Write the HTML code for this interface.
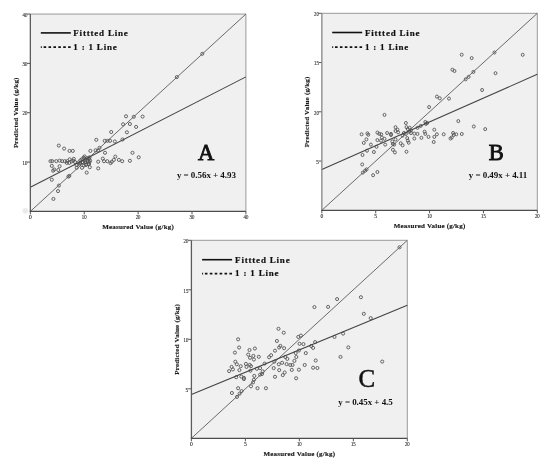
<!DOCTYPE html>
<html><head><meta charset="utf-8"><style>
html,body{margin:0;padding:0;background:#fff;width:550px;height:464px;overflow:hidden}
svg{display:block}
.tk{font-family:"Liberation Serif",serif;font-size:6.3px;fill:#222;stroke:#222;stroke-width:0.12px}
.lg{font-family:"Liberation Serif",serif;font-weight:bold;font-size:9px;letter-spacing:0.8px;fill:#111;stroke:#111;stroke-width:0.2px}
.big{font-family:"Liberation Serif",serif;font-weight:normal;font-size:22.5px;fill:#111;stroke:#111;stroke-width:0.9px}
.bigc{font-size:25px;stroke-width:0.5px}
.eq{font-family:"Liberation Serif",serif;font-weight:bold;font-size:9px;letter-spacing:-0.05px;fill:#111}
.al{font-family:"Liberation Serif",serif;font-weight:bold;font-size:7px;letter-spacing:0.2px;fill:#1a1a1a;stroke:#1a1a1a;stroke-width:0.15px}
.pt{fill:none;stroke:#555;stroke-width:0.9}
</style></head><body>
<svg width="550" height="464" viewBox="0 0 550 464">
<rect width="550" height="464" fill="#fff"/>
<defs><radialGradient id="bl"><stop offset="0" stop-color="#e9e9e9"/><stop offset="0.6" stop-color="#ececec"/><stop offset="1" stop-color="#fff" stop-opacity="0"/></radialGradient></defs><circle cx="25.4" cy="210.8" r="4" fill="url(#bl)"/>
<rect x="30.35" y="14.05" width="215.55" height="197.35" fill="#f0f0f0"/>
<path d="M30.35 14.05H245.9V211.4" stroke="#999" stroke-width="1" fill="none"/>
<line x1="30.35" y1="211.4" x2="30.35" y2="214.4" stroke="#555" stroke-width="1"/>
<text x="30.35" y="219.4" class="tk" text-anchor="middle" textLength="2.8" lengthAdjust="spacingAndGlyphs">0</text>
<line x1="84.24" y1="211.4" x2="84.24" y2="214.4" stroke="#555" stroke-width="1"/>
<line x1="27.15" y1="162.06" x2="30.35" y2="162.06" stroke="#555" stroke-width="1"/>
<text x="84.24" y="219.4" class="tk" text-anchor="middle" textLength="4.8" lengthAdjust="spacingAndGlyphs">10</text>
<text x="27.35" y="164.76" class="tk" text-anchor="end" textLength="4.8" lengthAdjust="spacingAndGlyphs">10</text>
<line x1="138.12" y1="211.4" x2="138.12" y2="214.4" stroke="#555" stroke-width="1"/>
<line x1="27.15" y1="112.73" x2="30.35" y2="112.73" stroke="#555" stroke-width="1"/>
<text x="138.12" y="219.4" class="tk" text-anchor="middle" textLength="4.8" lengthAdjust="spacingAndGlyphs">20</text>
<text x="27.35" y="115.43" class="tk" text-anchor="end" textLength="4.8" lengthAdjust="spacingAndGlyphs">20</text>
<line x1="192.01" y1="211.4" x2="192.01" y2="214.4" stroke="#555" stroke-width="1"/>
<line x1="27.15" y1="63.39" x2="30.35" y2="63.39" stroke="#555" stroke-width="1"/>
<text x="192.01" y="219.4" class="tk" text-anchor="middle" textLength="4.8" lengthAdjust="spacingAndGlyphs">30</text>
<text x="27.35" y="66.09" class="tk" text-anchor="end" textLength="4.8" lengthAdjust="spacingAndGlyphs">30</text>
<line x1="245.9" y1="211.4" x2="245.9" y2="214.4" stroke="#555" stroke-width="1"/>
<line x1="27.15" y1="14.05" x2="30.35" y2="14.05" stroke="#555" stroke-width="1"/>
<text x="245.9" y="219.4" class="tk" text-anchor="middle" textLength="4.8" lengthAdjust="spacingAndGlyphs">40</text>
<text x="27.35" y="16.75" class="tk" text-anchor="end" textLength="4.8" lengthAdjust="spacingAndGlyphs">40</text>
<ellipse cx="58.8" cy="145.6" rx="1.55" ry="1.55" class="pt"/>
<ellipse cx="64.1" cy="148.6" rx="1.55" ry="1.55" class="pt"/>
<ellipse cx="69.5" cy="150.9" rx="1.55" ry="1.55" class="pt"/>
<ellipse cx="72.8" cy="150.9" rx="1.55" ry="1.55" class="pt"/>
<ellipse cx="90.4" cy="150.9" rx="1.55" ry="1.55" class="pt"/>
<ellipse cx="95.6" cy="150.3" rx="1.55" ry="1.55" class="pt"/>
<ellipse cx="98" cy="150.6" rx="1.55" ry="1.55" class="pt"/>
<ellipse cx="126" cy="116.3" rx="1.55" ry="1.55" class="pt"/>
<ellipse cx="133.8" cy="116.8" rx="1.55" ry="1.55" class="pt"/>
<ellipse cx="142.6" cy="116.6" rx="1.55" ry="1.55" class="pt"/>
<ellipse cx="123.1" cy="124.3" rx="1.55" ry="1.55" class="pt"/>
<ellipse cx="129.9" cy="124" rx="1.55" ry="1.55" class="pt"/>
<ellipse cx="136.1" cy="126.9" rx="1.55" ry="1.55" class="pt"/>
<ellipse cx="111.2" cy="132" rx="1.55" ry="1.55" class="pt"/>
<ellipse cx="126.9" cy="132.3" rx="1.55" ry="1.55" class="pt"/>
<ellipse cx="96.3" cy="139.8" rx="1.55" ry="1.55" class="pt"/>
<ellipse cx="104.7" cy="140.8" rx="1.55" ry="1.55" class="pt"/>
<ellipse cx="107.5" cy="140.8" rx="1.55" ry="1.55" class="pt"/>
<ellipse cx="110.1" cy="140.8" rx="1.55" ry="1.55" class="pt"/>
<ellipse cx="114.8" cy="141.5" rx="1.55" ry="1.55" class="pt"/>
<ellipse cx="122.5" cy="139.5" rx="1.55" ry="1.55" class="pt"/>
<ellipse cx="99.5" cy="147.8" rx="1.55" ry="1.55" class="pt"/>
<ellipse cx="176.8" cy="77.1" rx="1.55" ry="1.55" class="pt"/>
<ellipse cx="202.3" cy="53.8" rx="1.55" ry="1.55" class="pt"/>
<ellipse cx="50.5" cy="161.15" rx="1.55" ry="1.55" class="pt"/>
<ellipse cx="52.3" cy="161.15" rx="1.55" ry="1.55" class="pt"/>
<ellipse cx="56.3" cy="161.15" rx="1.55" ry="1.55" class="pt"/>
<ellipse cx="59.6" cy="160.65" rx="1.55" ry="1.55" class="pt"/>
<ellipse cx="62.2" cy="161.15" rx="1.55" ry="1.55" class="pt"/>
<ellipse cx="64.7" cy="161.15" rx="1.55" ry="1.55" class="pt"/>
<ellipse cx="67.3" cy="161.15" rx="1.55" ry="1.55" class="pt"/>
<ellipse cx="69.7" cy="159.3" rx="1.55" ry="1.55" class="pt"/>
<ellipse cx="73.1" cy="160.65" rx="1.55" ry="1.55" class="pt"/>
<ellipse cx="51.8" cy="165.9" rx="1.55" ry="1.55" class="pt"/>
<ellipse cx="59.6" cy="166.2" rx="1.55" ry="1.55" class="pt"/>
<ellipse cx="53.1" cy="170.7" rx="1.55" ry="1.55" class="pt"/>
<ellipse cx="54.2" cy="169.5" rx="1.55" ry="1.55" class="pt"/>
<ellipse cx="58.3" cy="170" rx="1.55" ry="1.55" class="pt"/>
<ellipse cx="69.3" cy="162.9" rx="1.55" ry="1.55" class="pt"/>
<ellipse cx="66.8" cy="162.9" rx="1.55" ry="1.55" class="pt"/>
<ellipse cx="86.7" cy="172.6" rx="1.55" ry="1.55" class="pt"/>
<ellipse cx="51.8" cy="179.7" rx="1.55" ry="1.55" class="pt"/>
<ellipse cx="69.3" cy="175.9" rx="1.55" ry="1.55" class="pt"/>
<ellipse cx="68.4" cy="176.6" rx="1.55" ry="1.55" class="pt"/>
<ellipse cx="58.9" cy="185.6" rx="1.55" ry="1.55" class="pt"/>
<ellipse cx="58" cy="191.1" rx="1.55" ry="1.55" class="pt"/>
<ellipse cx="53.4" cy="198.9" rx="1.55" ry="1.55" class="pt"/>
<ellipse cx="84.6" cy="156.4" rx="1.55" ry="1.55" class="pt"/>
<ellipse cx="83.6" cy="157.6" rx="1.55" ry="1.55" class="pt"/>
<ellipse cx="73.8" cy="158.8" rx="1.55" ry="1.55" class="pt"/>
<ellipse cx="71.5" cy="161.4" rx="1.55" ry="1.55" class="pt"/>
<ellipse cx="75" cy="162" rx="1.55" ry="1.55" class="pt"/>
<ellipse cx="80.5" cy="160.2" rx="1.55" ry="1.55" class="pt"/>
<ellipse cx="81.8" cy="159.3" rx="1.55" ry="1.55" class="pt"/>
<ellipse cx="87.2" cy="158.2" rx="1.55" ry="1.55" class="pt"/>
<ellipse cx="89.5" cy="157.3" rx="1.55" ry="1.55" class="pt"/>
<ellipse cx="90.1" cy="160.5" rx="1.55" ry="1.55" class="pt"/>
<ellipse cx="87.8" cy="160.8" rx="1.55" ry="1.55" class="pt"/>
<ellipse cx="85.5" cy="162" rx="1.55" ry="1.55" class="pt"/>
<ellipse cx="82.5" cy="162" rx="1.55" ry="1.55" class="pt"/>
<ellipse cx="78.5" cy="162.5" rx="1.55" ry="1.55" class="pt"/>
<ellipse cx="76.4" cy="164.9" rx="1.55" ry="1.55" class="pt"/>
<ellipse cx="76.7" cy="167.8" rx="1.55" ry="1.55" class="pt"/>
<ellipse cx="82" cy="167.8" rx="1.55" ry="1.55" class="pt"/>
<ellipse cx="86" cy="164.9" rx="1.55" ry="1.55" class="pt"/>
<ellipse cx="89" cy="164" rx="1.55" ry="1.55" class="pt"/>
<ellipse cx="89.8" cy="167.2" rx="1.55" ry="1.55" class="pt"/>
<ellipse cx="98.2" cy="161.7" rx="1.55" ry="1.55" class="pt"/>
<ellipse cx="98.2" cy="168.4" rx="1.55" ry="1.55" class="pt"/>
<ellipse cx="79.5" cy="164.5" rx="1.55" ry="1.55" class="pt"/>
<ellipse cx="84" cy="165.5" rx="1.55" ry="1.55" class="pt"/>
<ellipse cx="89.5" cy="162" rx="1.55" ry="1.55" class="pt"/>
<ellipse cx="89" cy="158.5" rx="1.55" ry="1.55" class="pt"/>
<ellipse cx="105" cy="152.8" rx="1.55" ry="1.55" class="pt"/>
<ellipse cx="132.5" cy="152.8" rx="1.55" ry="1.55" class="pt"/>
<ellipse cx="138.7" cy="157.3" rx="1.55" ry="1.55" class="pt"/>
<ellipse cx="102.8" cy="158.6" rx="1.55" ry="1.55" class="pt"/>
<ellipse cx="104" cy="161.2" rx="1.55" ry="1.55" class="pt"/>
<ellipse cx="107.3" cy="161.2" rx="1.55" ry="1.55" class="pt"/>
<ellipse cx="110.5" cy="163.1" rx="1.55" ry="1.55" class="pt"/>
<ellipse cx="111.8" cy="161.8" rx="1.55" ry="1.55" class="pt"/>
<ellipse cx="113.8" cy="159.9" rx="1.55" ry="1.55" class="pt"/>
<ellipse cx="115.3" cy="156.6" rx="1.55" ry="1.55" class="pt"/>
<ellipse cx="118.9" cy="159.9" rx="1.55" ry="1.55" class="pt"/>
<ellipse cx="122.2" cy="161.2" rx="1.55" ry="1.55" class="pt"/>
<ellipse cx="129.9" cy="160.8" rx="1.55" ry="1.55" class="pt"/>
<ellipse cx="85.4" cy="160.1" rx="1.55" ry="1.55" class="pt"/>
<ellipse cx="87.6" cy="161.6" rx="1.55" ry="1.55" class="pt"/>
<ellipse cx="83.1" cy="162.4" rx="1.55" ry="1.55" class="pt"/>
<ellipse cx="88.4" cy="163.9" rx="1.55" ry="1.55" class="pt"/>
<ellipse cx="86.1" cy="164.6" rx="1.55" ry="1.55" class="pt"/>
<ellipse cx="80.1" cy="163.1" rx="1.55" ry="1.55" class="pt"/>
<ellipse cx="84.2" cy="158.3" rx="1.55" ry="1.55" class="pt"/>
<line x1="30.35" y1="211.4" x2="245.9" y2="14.05" stroke="#5a5a5a" stroke-width="0.9"/>
<line x1="30.35" y1="187.2" x2="245.9" y2="76.9" stroke="#444" stroke-width="1.05"/>
<path d="M30.35 14.05V211.4" stroke="#5c5c5c" stroke-width="1.3" fill="none"/>
<path d="M29.7 211.4H245.9" stroke="#4c4c4c" stroke-width="1.3" fill="none"/>
<line x1="40.8" y1="32.9" x2="70.8" y2="32.9" stroke="#111" stroke-width="1.6"/>
<line x1="40.8" y1="47.1" x2="70.8" y2="47.1" stroke="#111" stroke-width="1.6" stroke-dasharray="1 1.8 2.6 2.3 2.6 2.3 2.6 2.3 2.6 2.3 2.6 2.3 2.6 5"/>
<text x="73.3" y="36.2" class="lg">Fittted Line</text>
<text x="73.3" y="49.6" class="lg">1 : 1 Line</text>
<text x="206" y="159.7" class="big" text-anchor="middle">A</text>
<text x="206.4" y="177.9" class="eq" text-anchor="middle">y = 0.56x + 4.93</text>
<text x="138.12" y="228.6" class="al" text-anchor="middle">Measured Value (g/kg)</text>
<text transform="translate(17.55 112.73) rotate(-90)" class="al" text-anchor="middle">Predicted Value (g/kg)</text>
<rect x="321.85" y="13.3" width="215.45" height="197" fill="#f0f0f0"/>
<path d="M321.85 13.3H537.3V210.3" stroke="#999" stroke-width="1" fill="none"/>
<line x1="321.85" y1="210.3" x2="321.85" y2="213.3" stroke="#555" stroke-width="1"/>
<text x="321.85" y="218.3" class="tk" text-anchor="middle" textLength="2.8" lengthAdjust="spacingAndGlyphs">0</text>
<line x1="375.71" y1="210.3" x2="375.71" y2="213.3" stroke="#555" stroke-width="1"/>
<line x1="318.65" y1="161.05" x2="321.85" y2="161.05" stroke="#555" stroke-width="1"/>
<text x="375.71" y="218.3" class="tk" text-anchor="middle" textLength="2.8" lengthAdjust="spacingAndGlyphs">5</text>
<text x="318.85" y="163.75" class="tk" text-anchor="end" textLength="2.8" lengthAdjust="spacingAndGlyphs">5</text>
<line x1="429.57" y1="210.3" x2="429.57" y2="213.3" stroke="#555" stroke-width="1"/>
<line x1="318.65" y1="111.8" x2="321.85" y2="111.8" stroke="#555" stroke-width="1"/>
<text x="429.57" y="218.3" class="tk" text-anchor="middle" textLength="4.8" lengthAdjust="spacingAndGlyphs">10</text>
<text x="318.85" y="114.5" class="tk" text-anchor="end" textLength="4.8" lengthAdjust="spacingAndGlyphs">20</text>
<line x1="483.44" y1="210.3" x2="483.44" y2="213.3" stroke="#555" stroke-width="1"/>
<line x1="318.65" y1="62.55" x2="321.85" y2="62.55" stroke="#555" stroke-width="1"/>
<text x="483.44" y="218.3" class="tk" text-anchor="middle" textLength="4.8" lengthAdjust="spacingAndGlyphs">15</text>
<text x="318.85" y="65.25" class="tk" text-anchor="end" textLength="4.8" lengthAdjust="spacingAndGlyphs">15</text>
<line x1="537.3" y1="210.3" x2="537.3" y2="213.3" stroke="#555" stroke-width="1"/>
<line x1="318.65" y1="13.3" x2="321.85" y2="13.3" stroke="#555" stroke-width="1"/>
<text x="537.3" y="218.3" class="tk" text-anchor="middle" textLength="4.8" lengthAdjust="spacingAndGlyphs">20</text>
<text x="318.85" y="16" class="tk" text-anchor="end" textLength="4.8" lengthAdjust="spacingAndGlyphs">20</text>
<ellipse cx="384.5" cy="114.9" rx="1.45" ry="1.55" class="pt"/>
<ellipse cx="361.6" cy="134.3" rx="1.45" ry="1.55" class="pt"/>
<ellipse cx="367.4" cy="133.4" rx="1.45" ry="1.55" class="pt"/>
<ellipse cx="368.3" cy="134.7" rx="1.45" ry="1.55" class="pt"/>
<ellipse cx="377.4" cy="132.6" rx="1.45" ry="1.55" class="pt"/>
<ellipse cx="379.3" cy="133.9" rx="1.45" ry="1.55" class="pt"/>
<ellipse cx="381.3" cy="134.3" rx="1.45" ry="1.55" class="pt"/>
<ellipse cx="366.4" cy="139.4" rx="1.45" ry="1.55" class="pt"/>
<ellipse cx="363.8" cy="142.9" rx="1.45" ry="1.55" class="pt"/>
<ellipse cx="370.9" cy="144.6" rx="1.45" ry="1.55" class="pt"/>
<ellipse cx="377.4" cy="140.1" rx="1.45" ry="1.55" class="pt"/>
<ellipse cx="381.9" cy="137.5" rx="1.45" ry="1.55" class="pt"/>
<ellipse cx="376.5" cy="146.8" rx="1.45" ry="1.55" class="pt"/>
<ellipse cx="367" cy="150.7" rx="1.45" ry="1.55" class="pt"/>
<ellipse cx="373.9" cy="152" rx="1.45" ry="1.55" class="pt"/>
<ellipse cx="362.5" cy="155" rx="1.45" ry="1.55" class="pt"/>
<ellipse cx="429.1" cy="107.1" rx="1.45" ry="1.55" class="pt"/>
<ellipse cx="405.9" cy="123" rx="1.45" ry="1.55" class="pt"/>
<ellipse cx="395.5" cy="127.2" rx="1.45" ry="1.55" class="pt"/>
<ellipse cx="397.5" cy="129.7" rx="1.45" ry="1.55" class="pt"/>
<ellipse cx="395.5" cy="131" rx="1.45" ry="1.55" class="pt"/>
<ellipse cx="398.1" cy="132.3" rx="1.45" ry="1.55" class="pt"/>
<ellipse cx="387.1" cy="133" rx="1.45" ry="1.55" class="pt"/>
<ellipse cx="391" cy="133.9" rx="1.45" ry="1.55" class="pt"/>
<ellipse cx="391" cy="135" rx="1.45" ry="1.55" class="pt"/>
<ellipse cx="384.5" cy="138.8" rx="1.45" ry="1.55" class="pt"/>
<ellipse cx="406.5" cy="127.2" rx="1.45" ry="1.55" class="pt"/>
<ellipse cx="407.8" cy="129.1" rx="1.45" ry="1.55" class="pt"/>
<ellipse cx="409.7" cy="127.8" rx="1.45" ry="1.55" class="pt"/>
<ellipse cx="411" cy="130.4" rx="1.45" ry="1.55" class="pt"/>
<ellipse cx="409.1" cy="131.7" rx="1.45" ry="1.55" class="pt"/>
<ellipse cx="411" cy="133" rx="1.45" ry="1.55" class="pt"/>
<ellipse cx="403.9" cy="133" rx="1.45" ry="1.55" class="pt"/>
<ellipse cx="405.9" cy="133.9" rx="1.45" ry="1.55" class="pt"/>
<ellipse cx="402.6" cy="135.6" rx="1.45" ry="1.55" class="pt"/>
<ellipse cx="414.3" cy="133.6" rx="1.45" ry="1.55" class="pt"/>
<ellipse cx="417.5" cy="133.9" rx="1.45" ry="1.55" class="pt"/>
<ellipse cx="417.5" cy="127.8" rx="1.45" ry="1.55" class="pt"/>
<ellipse cx="420.7" cy="125.9" rx="1.45" ry="1.55" class="pt"/>
<ellipse cx="425.3" cy="122" rx="1.45" ry="1.55" class="pt"/>
<ellipse cx="425.9" cy="123.9" rx="1.45" ry="1.55" class="pt"/>
<ellipse cx="427.2" cy="123" rx="1.45" ry="1.55" class="pt"/>
<ellipse cx="424.6" cy="131.7" rx="1.45" ry="1.55" class="pt"/>
<ellipse cx="425.3" cy="133.9" rx="1.45" ry="1.55" class="pt"/>
<ellipse cx="428.5" cy="136.9" rx="1.45" ry="1.55" class="pt"/>
<ellipse cx="421.4" cy="137.8" rx="1.45" ry="1.55" class="pt"/>
<ellipse cx="414.3" cy="138.5" rx="1.45" ry="1.55" class="pt"/>
<ellipse cx="407.2" cy="138.1" rx="1.45" ry="1.55" class="pt"/>
<ellipse cx="407.8" cy="140.7" rx="1.45" ry="1.55" class="pt"/>
<ellipse cx="408.7" cy="142.7" rx="1.45" ry="1.55" class="pt"/>
<ellipse cx="400.7" cy="143.3" rx="1.45" ry="1.55" class="pt"/>
<ellipse cx="402.6" cy="145.3" rx="1.45" ry="1.55" class="pt"/>
<ellipse cx="392.3" cy="141.4" rx="1.45" ry="1.55" class="pt"/>
<ellipse cx="395.5" cy="139.4" rx="1.45" ry="1.55" class="pt"/>
<ellipse cx="392.9" cy="144" rx="1.45" ry="1.55" class="pt"/>
<ellipse cx="394.2" cy="144.6" rx="1.45" ry="1.55" class="pt"/>
<ellipse cx="385.2" cy="144.6" rx="1.45" ry="1.55" class="pt"/>
<ellipse cx="434.3" cy="129.7" rx="1.45" ry="1.55" class="pt"/>
<ellipse cx="436.9" cy="134.3" rx="1.45" ry="1.55" class="pt"/>
<ellipse cx="434.3" cy="136.9" rx="1.45" ry="1.55" class="pt"/>
<ellipse cx="433.7" cy="142" rx="1.45" ry="1.55" class="pt"/>
<ellipse cx="392.9" cy="149.8" rx="1.45" ry="1.55" class="pt"/>
<ellipse cx="394.9" cy="152.4" rx="1.45" ry="1.55" class="pt"/>
<ellipse cx="406.5" cy="151.7" rx="1.45" ry="1.55" class="pt"/>
<ellipse cx="362.2" cy="164.5" rx="1.45" ry="1.55" class="pt"/>
<ellipse cx="362.8" cy="172.6" rx="1.45" ry="1.55" class="pt"/>
<ellipse cx="365.1" cy="170.7" rx="1.45" ry="1.55" class="pt"/>
<ellipse cx="366.6" cy="169.4" rx="1.45" ry="1.55" class="pt"/>
<ellipse cx="373.1" cy="175.2" rx="1.45" ry="1.55" class="pt"/>
<ellipse cx="377.4" cy="172" rx="1.45" ry="1.55" class="pt"/>
<ellipse cx="458.3" cy="121.1" rx="1.45" ry="1.55" class="pt"/>
<ellipse cx="473.8" cy="126.5" rx="1.45" ry="1.55" class="pt"/>
<ellipse cx="485.2" cy="129.1" rx="1.45" ry="1.55" class="pt"/>
<ellipse cx="443.7" cy="134.3" rx="1.45" ry="1.55" class="pt"/>
<ellipse cx="453.1" cy="133" rx="1.45" ry="1.55" class="pt"/>
<ellipse cx="453.8" cy="134.9" rx="1.45" ry="1.55" class="pt"/>
<ellipse cx="456.3" cy="134.3" rx="1.45" ry="1.55" class="pt"/>
<ellipse cx="450.5" cy="138.5" rx="1.45" ry="1.55" class="pt"/>
<ellipse cx="451.8" cy="137.5" rx="1.45" ry="1.55" class="pt"/>
<ellipse cx="461.8" cy="134" rx="1.45" ry="1.55" class="pt"/>
<ellipse cx="461.7" cy="54.7" rx="1.45" ry="1.55" class="pt"/>
<ellipse cx="471.7" cy="58.1" rx="1.45" ry="1.55" class="pt"/>
<ellipse cx="494.5" cy="52.5" rx="1.45" ry="1.55" class="pt"/>
<ellipse cx="452.4" cy="69.7" rx="1.45" ry="1.55" class="pt"/>
<ellipse cx="454.5" cy="71" rx="1.45" ry="1.55" class="pt"/>
<ellipse cx="473.4" cy="71.9" rx="1.45" ry="1.55" class="pt"/>
<ellipse cx="465.7" cy="79.3" rx="1.45" ry="1.55" class="pt"/>
<ellipse cx="468.6" cy="76.9" rx="1.45" ry="1.55" class="pt"/>
<ellipse cx="495.5" cy="73.2" rx="1.45" ry="1.55" class="pt"/>
<ellipse cx="482.1" cy="90" rx="1.45" ry="1.55" class="pt"/>
<ellipse cx="436.9" cy="96.6" rx="1.45" ry="1.55" class="pt"/>
<ellipse cx="439.8" cy="98.3" rx="1.45" ry="1.55" class="pt"/>
<ellipse cx="449" cy="98.6" rx="1.45" ry="1.55" class="pt"/>
<ellipse cx="522.7" cy="54.8" rx="1.45" ry="1.55" class="pt"/>
<ellipse cx="381" cy="140.7" rx="1.45" ry="1.55" class="pt"/>
<line x1="321.85" y1="210.3" x2="537.3" y2="13.3" stroke="#5a5a5a" stroke-width="0.9"/>
<line x1="321.85" y1="169.5" x2="537.3" y2="74.3" stroke="#444" stroke-width="1.05"/>
<path d="M321.85 13.3V210.3" stroke="#858585" stroke-width="1.3" fill="none"/>
<path d="M321.2 210.3H537.3" stroke="#4c4c4c" stroke-width="1.3" fill="none"/>
<line x1="332.2" y1="32.5" x2="362.2" y2="32.5" stroke="#111" stroke-width="1.6"/>
<line x1="332.2" y1="47.1" x2="362.2" y2="47.1" stroke="#111" stroke-width="1.6" stroke-dasharray="1 1.8 2.6 2.3 2.6 2.3 2.6 2.3 2.6 2.3 2.6 2.3 2.6 5"/>
<text x="364.9" y="36.4" class="lg">Fittted Line</text>
<text x="364.9" y="49.5" class="lg">1 : 1 Line</text>
<text x="496.2" y="160" class="big" text-anchor="middle">B</text>
<text x="498" y="178.2" class="eq" text-anchor="middle">y = 0.49x + 4.11</text>
<text x="429.57" y="227.5" class="al" text-anchor="middle">Measured Value (g/kg)</text>
<text transform="translate(309.05 111.8) rotate(-90)" class="al" text-anchor="middle">Predicted Value (g/kg)</text>
<rect x="191.4" y="240.3" width="215.9" height="198" fill="#f0f0f0"/>
<path d="M191.4 240.3H407.3V438.3" stroke="#999" stroke-width="1" fill="none"/>
<line x1="191.4" y1="438.3" x2="191.4" y2="441.3" stroke="#555" stroke-width="1"/>
<text x="191.4" y="446.3" class="tk" text-anchor="middle" textLength="2.8" lengthAdjust="spacingAndGlyphs">0</text>
<line x1="245.38" y1="438.3" x2="245.38" y2="441.3" stroke="#555" stroke-width="1"/>
<line x1="188.2" y1="388.8" x2="191.4" y2="388.8" stroke="#555" stroke-width="1"/>
<text x="245.38" y="446.3" class="tk" text-anchor="middle" textLength="2.8" lengthAdjust="spacingAndGlyphs">5</text>
<text x="188.4" y="391.5" class="tk" text-anchor="end" textLength="2.8" lengthAdjust="spacingAndGlyphs">5</text>
<line x1="299.35" y1="438.3" x2="299.35" y2="441.3" stroke="#555" stroke-width="1"/>
<line x1="188.2" y1="339.3" x2="191.4" y2="339.3" stroke="#555" stroke-width="1"/>
<text x="299.35" y="446.3" class="tk" text-anchor="middle" textLength="4.8" lengthAdjust="spacingAndGlyphs">10</text>
<text x="188.4" y="342" class="tk" text-anchor="end" textLength="4.8" lengthAdjust="spacingAndGlyphs">10</text>
<line x1="353.33" y1="438.3" x2="353.33" y2="441.3" stroke="#555" stroke-width="1"/>
<line x1="188.2" y1="289.8" x2="191.4" y2="289.8" stroke="#555" stroke-width="1"/>
<text x="353.33" y="446.3" class="tk" text-anchor="middle" textLength="4.8" lengthAdjust="spacingAndGlyphs">15</text>
<text x="188.4" y="292.5" class="tk" text-anchor="end" textLength="4.8" lengthAdjust="spacingAndGlyphs">15</text>
<line x1="407.3" y1="438.3" x2="407.3" y2="441.3" stroke="#555" stroke-width="1"/>
<line x1="188.2" y1="240.3" x2="191.4" y2="240.3" stroke="#555" stroke-width="1"/>
<text x="407.3" y="446.3" class="tk" text-anchor="middle" textLength="4.8" lengthAdjust="spacingAndGlyphs">20</text>
<text x="188.4" y="243" class="tk" text-anchor="end" textLength="4.8" lengthAdjust="spacingAndGlyphs">20</text>
<ellipse cx="238.1" cy="339.3" rx="1.55" ry="1.55" class="pt"/>
<ellipse cx="239.1" cy="347.5" rx="1.55" ry="1.55" class="pt"/>
<ellipse cx="234.9" cy="352.6" rx="1.55" ry="1.55" class="pt"/>
<ellipse cx="249.5" cy="350" rx="1.55" ry="1.55" class="pt"/>
<ellipse cx="254.9" cy="348.5" rx="1.55" ry="1.55" class="pt"/>
<ellipse cx="248.2" cy="354.6" rx="1.55" ry="1.55" class="pt"/>
<ellipse cx="250" cy="357.8" rx="1.55" ry="1.55" class="pt"/>
<ellipse cx="253.4" cy="355.9" rx="1.55" ry="1.55" class="pt"/>
<ellipse cx="253.9" cy="359.5" rx="1.55" ry="1.55" class="pt"/>
<ellipse cx="258.8" cy="356.8" rx="1.55" ry="1.55" class="pt"/>
<ellipse cx="276.9" cy="341" rx="1.55" ry="1.55" class="pt"/>
<ellipse cx="275" cy="350.7" rx="1.55" ry="1.55" class="pt"/>
<ellipse cx="269.1" cy="357.2" rx="1.55" ry="1.55" class="pt"/>
<ellipse cx="271.1" cy="355.2" rx="1.55" ry="1.55" class="pt"/>
<ellipse cx="235.3" cy="361.7" rx="1.55" ry="1.55" class="pt"/>
<ellipse cx="236.8" cy="364.3" rx="1.55" ry="1.55" class="pt"/>
<ellipse cx="231.6" cy="366.9" rx="1.55" ry="1.55" class="pt"/>
<ellipse cx="229.1" cy="371.1" rx="1.55" ry="1.55" class="pt"/>
<ellipse cx="232.9" cy="369.4" rx="1.55" ry="1.55" class="pt"/>
<ellipse cx="240.7" cy="366.2" rx="1.55" ry="1.55" class="pt"/>
<ellipse cx="245.9" cy="363.9" rx="1.55" ry="1.55" class="pt"/>
<ellipse cx="246.5" cy="366.9" rx="1.55" ry="1.55" class="pt"/>
<ellipse cx="249.7" cy="364.9" rx="1.55" ry="1.55" class="pt"/>
<ellipse cx="251" cy="366.2" rx="1.55" ry="1.55" class="pt"/>
<ellipse cx="239.4" cy="370.1" rx="1.55" ry="1.55" class="pt"/>
<ellipse cx="250.4" cy="370.7" rx="1.55" ry="1.55" class="pt"/>
<ellipse cx="256.9" cy="368.8" rx="1.55" ry="1.55" class="pt"/>
<ellipse cx="260.1" cy="368.1" rx="1.55" ry="1.55" class="pt"/>
<ellipse cx="262.7" cy="371.4" rx="1.55" ry="1.55" class="pt"/>
<ellipse cx="264.6" cy="363.6" rx="1.55" ry="1.55" class="pt"/>
<ellipse cx="274.3" cy="361.7" rx="1.55" ry="1.55" class="pt"/>
<ellipse cx="278.8" cy="364.3" rx="1.55" ry="1.55" class="pt"/>
<ellipse cx="273.7" cy="368.1" rx="1.55" ry="1.55" class="pt"/>
<ellipse cx="279.2" cy="370.1" rx="1.55" ry="1.55" class="pt"/>
<ellipse cx="236.2" cy="377.2" rx="1.55" ry="1.55" class="pt"/>
<ellipse cx="241.3" cy="376.6" rx="1.55" ry="1.55" class="pt"/>
<ellipse cx="243.9" cy="377.8" rx="1.55" ry="1.55" class="pt"/>
<ellipse cx="243.9" cy="379.1" rx="1.55" ry="1.55" class="pt"/>
<ellipse cx="254.3" cy="375.9" rx="1.55" ry="1.55" class="pt"/>
<ellipse cx="260.1" cy="374.6" rx="1.55" ry="1.55" class="pt"/>
<ellipse cx="262" cy="374" rx="1.55" ry="1.55" class="pt"/>
<ellipse cx="275" cy="376.8" rx="1.55" ry="1.55" class="pt"/>
<ellipse cx="253.9" cy="379.8" rx="1.55" ry="1.55" class="pt"/>
<ellipse cx="253" cy="382.4" rx="1.55" ry="1.55" class="pt"/>
<ellipse cx="251" cy="386.3" rx="1.55" ry="1.55" class="pt"/>
<ellipse cx="238.1" cy="388.2" rx="1.55" ry="1.55" class="pt"/>
<ellipse cx="257.5" cy="388.2" rx="1.55" ry="1.55" class="pt"/>
<ellipse cx="265.9" cy="388.2" rx="1.55" ry="1.55" class="pt"/>
<ellipse cx="231.9" cy="393" rx="1.55" ry="1.55" class="pt"/>
<ellipse cx="241.6" cy="391.1" rx="1.55" ry="1.55" class="pt"/>
<ellipse cx="239.6" cy="393.7" rx="1.55" ry="1.55" class="pt"/>
<ellipse cx="237" cy="396.9" rx="1.55" ry="1.55" class="pt"/>
<ellipse cx="278.5" cy="328.8" rx="1.55" ry="1.55" class="pt"/>
<ellipse cx="283.7" cy="332.7" rx="1.55" ry="1.55" class="pt"/>
<ellipse cx="280.4" cy="345.9" rx="1.55" ry="1.55" class="pt"/>
<ellipse cx="279.1" cy="347.5" rx="1.55" ry="1.55" class="pt"/>
<ellipse cx="284.1" cy="348.2" rx="1.55" ry="1.55" class="pt"/>
<ellipse cx="298.3" cy="336.9" rx="1.55" ry="1.55" class="pt"/>
<ellipse cx="300.9" cy="335.6" rx="1.55" ry="1.55" class="pt"/>
<ellipse cx="299.6" cy="343.8" rx="1.55" ry="1.55" class="pt"/>
<ellipse cx="303.4" cy="344.1" rx="1.55" ry="1.55" class="pt"/>
<ellipse cx="315.1" cy="342.1" rx="1.55" ry="1.55" class="pt"/>
<ellipse cx="311.2" cy="346" rx="1.55" ry="1.55" class="pt"/>
<ellipse cx="313.1" cy="347.9" rx="1.55" ry="1.55" class="pt"/>
<ellipse cx="298.9" cy="350.5" rx="1.55" ry="1.55" class="pt"/>
<ellipse cx="295.7" cy="353.1" rx="1.55" ry="1.55" class="pt"/>
<ellipse cx="305.8" cy="353.1" rx="1.55" ry="1.55" class="pt"/>
<ellipse cx="296.3" cy="357" rx="1.55" ry="1.55" class="pt"/>
<ellipse cx="285.3" cy="357" rx="1.55" ry="1.55" class="pt"/>
<ellipse cx="287.3" cy="358.9" rx="1.55" ry="1.55" class="pt"/>
<ellipse cx="294.4" cy="360.9" rx="1.55" ry="1.55" class="pt"/>
<ellipse cx="315.7" cy="360.5" rx="1.55" ry="1.55" class="pt"/>
<ellipse cx="282.1" cy="362.8" rx="1.55" ry="1.55" class="pt"/>
<ellipse cx="286.6" cy="364.1" rx="1.55" ry="1.55" class="pt"/>
<ellipse cx="290.3" cy="365" rx="1.55" ry="1.55" class="pt"/>
<ellipse cx="292.5" cy="365" rx="1.55" ry="1.55" class="pt"/>
<ellipse cx="304.7" cy="365" rx="1.55" ry="1.55" class="pt"/>
<ellipse cx="313.1" cy="367.7" rx="1.55" ry="1.55" class="pt"/>
<ellipse cx="317.4" cy="368" rx="1.55" ry="1.55" class="pt"/>
<ellipse cx="291.8" cy="369.9" rx="1.55" ry="1.55" class="pt"/>
<ellipse cx="298.9" cy="369.7" rx="1.55" ry="1.55" class="pt"/>
<ellipse cx="284.7" cy="372.5" rx="1.55" ry="1.55" class="pt"/>
<ellipse cx="282.8" cy="375.1" rx="1.55" ry="1.55" class="pt"/>
<ellipse cx="296.1" cy="378.3" rx="1.55" ry="1.55" class="pt"/>
<ellipse cx="334.5" cy="336.9" rx="1.55" ry="1.55" class="pt"/>
<ellipse cx="337.1" cy="299.1" rx="1.55" ry="1.55" class="pt"/>
<ellipse cx="328.1" cy="306.9" rx="1.55" ry="1.55" class="pt"/>
<ellipse cx="360.9" cy="297.2" rx="1.55" ry="1.55" class="pt"/>
<ellipse cx="363.8" cy="313.8" rx="1.55" ry="1.55" class="pt"/>
<ellipse cx="370.7" cy="318.1" rx="1.55" ry="1.55" class="pt"/>
<ellipse cx="343.1" cy="333.6" rx="1.55" ry="1.55" class="pt"/>
<ellipse cx="348.3" cy="347.4" rx="1.55" ry="1.55" class="pt"/>
<ellipse cx="340.5" cy="356.9" rx="1.55" ry="1.55" class="pt"/>
<ellipse cx="382.2" cy="361.6" rx="1.55" ry="1.55" class="pt"/>
<ellipse cx="314.4" cy="307.1" rx="1.55" ry="1.55" class="pt"/>
<ellipse cx="399.5" cy="247.3" rx="1.55" ry="1.55" class="pt"/>
<line x1="191.4" y1="438.3" x2="407.3" y2="240.3" stroke="#5a5a5a" stroke-width="0.9"/>
<line x1="191.4" y1="394.5" x2="407.3" y2="305.3" stroke="#444" stroke-width="1.05"/>
<path d="M191.4 240.3V438.3" stroke="#5c5c5c" stroke-width="1.3" fill="none"/>
<path d="M190.75 438.3H407.3" stroke="#4c4c4c" stroke-width="1.3" fill="none"/>
<line x1="202.1" y1="259.7" x2="232.1" y2="259.7" stroke="#111" stroke-width="1.6"/>
<line x1="202.1" y1="273.6" x2="232.1" y2="273.6" stroke="#111" stroke-width="1.6" stroke-dasharray="1 1.8 2.6 2.3 2.6 2.3 2.6 2.3 2.6 2.3 2.6 2.3 2.6 5"/>
<text x="235.1" y="262.5" class="lg">Fittted Line</text>
<text x="235.1" y="276.2" class="lg">1 : 1 Line</text>
<text x="366.9" y="387.4" class="big bigc" text-anchor="middle">C</text>
<text x="365.5" y="405.1" class="eq" text-anchor="middle">y = 0.45x + 4.5</text>
<text x="299.35" y="455.5" class="al" text-anchor="middle">Measured Value (g/kg)</text>
<text transform="translate(178.6 339.3) rotate(-90)" class="al" text-anchor="middle">Predicted Value (g/kg)</text>
</svg>
</body></html>
